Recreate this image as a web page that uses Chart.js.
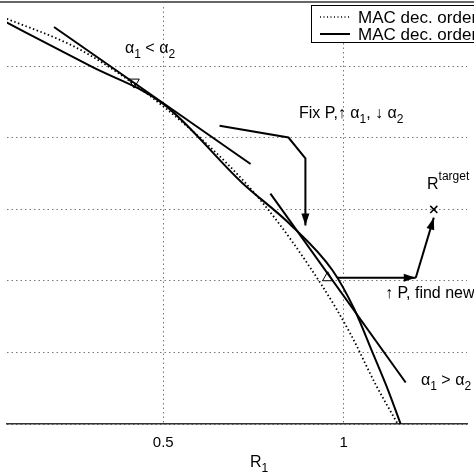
<!DOCTYPE html><html><head><script src="https://cdn.jsdelivr.net/npm/chart.js@4"></script>
<style>body{margin:0;background:#fff}</style></head><body>
<canvas id="c" width="474" height="474" style="width:474px;height:474px"></canvas>
<script>
const xTicks=[0.5,1];
const yGrid=[0,0.2,0.4,0.6,0.8,1.0];
const macOrderDotted=[[0.025,1.15],[0.294,1.033],[0.58,0.82],[0.775,0.619],[0.94,0.387],[1.02,0.25],[1.089,0.11],[1.15,0]];
const macOrderSolid=[[0.025,1.144],[0.3,1.0],[0.5,0.895],[0.719,0.674],[0.85,0.56],[0.969,0.43],[1.03,0.32],[1.08,0.2],[1.125,0.09],[1.158,0]];
const tangent1=[[0.197,1.110],[0.742,0.727]];
const tangent2=[[0.797,0.644],[1.172,0.116]];
const markerDown=[[0.419,0.956]];
const markerUp=[[0.956,0.409]];
const target=[[1.25,0.6]];
const arrowFix=[[0.656,0.834],[0.847,0.801],[0.894,0.743],[0.894,0.555]];
const arrowRight=[[0.983,0.409],[1.2,0.409]];
const arrowUp=[[1.2,0.409],[1.25,0.577]];
const pts=a=>a.map(p=>({x:p[0],y:p[1]}));
const ann={id:'ann',afterDatasetsDraw(ch){
 const c=ch.ctx,X=ch.scales.x,Y=ch.scales.y;
 const px=v=>X.getPixelForValue(v),py=v=>Y.getPixelForValue(v);
 c.save();c.strokeStyle='#000';c.fillStyle='#000';c.lineWidth=2;
 function arrow(a){c.beginPath();a.forEach((p,i)=>i?c.lineTo(px(p[0]),py(p[1])):c.moveTo(px(p[0]),py(p[1])));c.stroke();
  const n=a.length,x1=px(a[n-2][0]),y1=py(a[n-2][1]),x2=px(a[n-1][0]),y2=py(a[n-1][1]);
  const ang=Math.atan2(y2-y1,x2-x1);c.beginPath();c.moveTo(x2,y2);
  c.lineTo(x2-12*Math.cos(ang)+4*Math.sin(ang),y2-12*Math.sin(ang)-4*Math.cos(ang));
  c.lineTo(x2-12*Math.cos(ang)-4*Math.sin(ang),y2-12*Math.sin(ang)+4*Math.cos(ang));c.closePath();c.fill();}
 arrow(arrowFix);arrow(arrowRight);arrow(arrowUp);
 c.textBaseline='alphabetic';
 function rich(x,y,parts){let cx=x;parts.forEach(p=>{c.font=(p[1]?'12px':'16px')+' "Liberation Sans"';const dy=p[1]==='sub'?5:p[1]==='sup'?-9:0;c.fillText(p[0],cx,y+dy);cx+=c.measureText(p[0]).width;});}
 rich(125,53,[['α'],['1','sub'],[' < α'],['2','sub']]);
 rich(299,118,[['Fix P,↑ α'],['1','sub'],[', ↓ α'],['2','sub']]);
 rich(427,189,[['R'],['target','sup']]);
 rich(385,298,[['↑ P, find new']]);
 rich(421,385,[['α'],['1','sub'],[' > α'],['2','sub']]);
 c.font='18px "Liberation Sans"';rich(250,467,[['R'],['1','sub']]);
 c.lineWidth=1.5;c.strokeStyle='#333';c.beginPath();c.moveTo(0,2);c.lineTo(474,2);c.stroke();
 c.fillStyle='#fff';c.fillRect(311,5,170,38);c.strokeStyle='#000';c.lineWidth=1;c.strokeRect(311.5,5.5,170,37);
 c.fillStyle='#000';c.font='17px "Liberation Sans"';
 c.fillText('MAC dec. order 1',358,23);c.fillText('MAC dec. order 2',358,40);
 c.lineWidth=1.5;c.setLineDash([1,2.5]);c.beginPath();c.moveTo(320,17);c.lineTo(350,17);c.stroke();
 c.setLineDash([]);c.lineWidth=2;c.beginPath();c.moveTo(320,34);c.lineTo(350,34);c.stroke();
 c.restore();}};
new Chart(document.getElementById('c'),{type:'scatter',
 data:{datasets:[
  {data:pts(macOrderDotted),showLine:true,borderColor:'#000',borderWidth:1.8,borderDash:[1.5,2.5],pointRadius:0,cubicInterpolationMode:'monotone'},
  {data:pts(macOrderSolid),showLine:true,borderColor:'#000',borderWidth:2,pointRadius:0,cubicInterpolationMode:'monotone'},
  {data:pts(tangent1),showLine:true,borderColor:'#000',borderWidth:2,pointRadius:0},
  {data:pts(tangent2),showLine:true,borderColor:'#000',borderWidth:2,pointRadius:0},
  {data:pts(markerDown),pointStyle:'triangle',rotation:180,pointRadius:6,borderColor:'#000',backgroundColor:'#fff',borderWidth:1},
  {data:pts(markerUp),pointStyle:'triangle',pointRadius:6,borderColor:'#000',backgroundColor:'#fff',borderWidth:1},
  {data:pts(target),pointStyle:'crossRot',pointRadius:5,borderColor:'#000',borderWidth:1.5}
 ]},
 options:{responsive:false,animation:false,layout:{padding:{top:2,left:0,right:0,bottom:0}},
  plugins:{legend:{display:false},tooltip:{enabled:false}},
  scales:{
   x:{type:'linear',min:0.0667,max:1.342,afterBuildTicks:s=>{s.ticks=xTicks.map(v=>({value:v}))},
    afterFit:s=>{s.height=50},
    grid:{color:'#777',lineWidth:1,drawTicks:false},border:{color:'#333',width:1.5,dash:[1.5,3]},
    ticks:{color:'#000',font:{family:'Liberation Sans',size:15},padding:10,maxRotation:0,callback:v=>String(v)}},
   y:{type:'linear',min:0,max:1.166,afterBuildTicks:s=>{s.ticks=yGrid.map(v=>({value:v}))},
    afterFit:s=>{s.width=0},ticks:{display:false},
    grid:{color:'#777',lineWidth:1,drawTicks:false},border:{display:false,dash:[1.5,3]}}
  }},
 plugins:[ann]});
</script></body></html>
